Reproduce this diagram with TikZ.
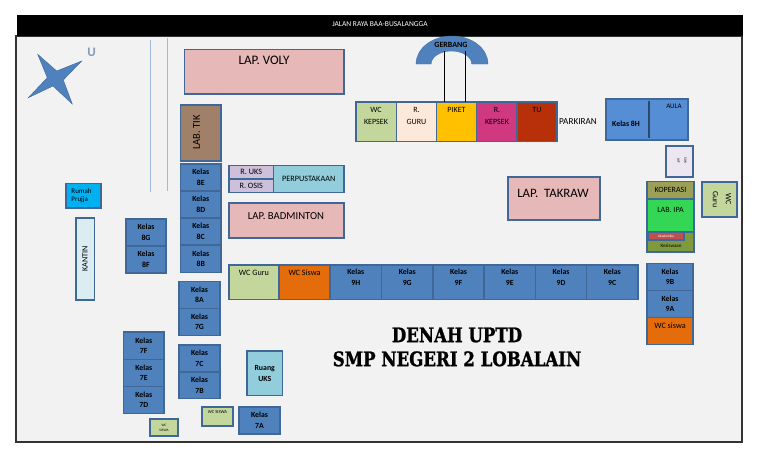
\documentclass[tikz,border=0pt]{standalone}
\usepackage{fontspec}
\setmainfont{Carlito}
\newfontfamily\titlefont{DejaVu Serif}[BoldFeatures={FakeBold=1.2,FakeStretch=0.83}]
\definecolor{ground}{HTML}{F2F2F2}
\definecolor{edge}{HTML}{3F6797}
\definecolor{kelas}{HTML}{4F81BD}
\definecolor{lapangan}{HTML}{E6B8B7}
\definecolor{wcgreen}{HTML}{C3D69B}
\definecolor{wcorange}{HTML}{E46C0A}
\definecolor{aqua}{HTML}{92CDDC}
\definecolor{lilac}{HTML}{CCC0DA}
\definecolor{tikbrown}{HTML}{A08068}
\definecolor{rguru}{HTML}{FDE9D9}
\definecolor{piket}{HTML}{FFC000}
\definecolor{kepsek}{HTML}{D0397F}
\definecolor{tata}{HTML}{B7300A}
\definecolor{aula}{HTML}{558ED5}
\definecolor{prujja}{HTML}{00B0F0}
\definecolor{koperasi}{HTML}{9BA057}
\definecolor{labipa}{HTML}{33D755}
\definecolor{kesiswaan}{HTML}{7F9A3D}
\definecolor{akademik}{HTML}{C0504D}
\tikzset{
room/.style={draw=edge, line width=1.1pt},
kelasroom/.style={room, fill=kelas},
lapangan/.style={room, line width=1.3pt, fill=lapangan},
wcroom/.style={room, fill=wcgreen},
label/.style={inner sep=0pt, align=center, font=\fontsize{8.2}{10.5}\selectfont},
kelaslabel/.style={label, font=\bfseries\fontsize{7.8}{10.5}\selectfont},
frontlabel/.style={label, font=\fontsize{8}{12}\selectfont},
road/.style={line width=1pt, draw=kelas!55},
gateline/.style={line width=.8pt, black}
}
\begin{document}
\begin{tikzpicture}[x=1pt,y=-1pt]
\useasboundingbox (0,0) rectangle (768,466);
% halaman dan jalan
\draw[fill=ground, draw=black!80, line width=1.5pt] (16,36) rectangle (742,442);
\fill[black] (17,15) rectangle (743,36);
\node[label, text=white, font=\fontsize{7.5}{8}\selectfont] (jalan) at (380,23.7){JALAN RAYA BAA-BUSALANGGA};
% arah mata angin
\draw[fill=kelas, draw=edge, line width=.4pt] (37.7,54.3) -- (56.7,71) -- (81.7,61) -- (63.3,80) -- (72.3,104) -- (53,86) -- (28.3,97.7) -- (47.3,77.7) -- cycle;
\node[label, text=kelas!55!gray!80, font=\bfseries\fontsize{13}{13}\selectfont] (utara) at (91.5,52.5){U};
\coordinate (road1a) at (150,40);
\coordinate (road1b) at (150,192);
\coordinate (road2a) at (167.5,38);
\coordinate (road2b) at (167.5,191);
\draw[road](road1a) -- (road1b);
\draw[road](road2a) -- (road2b);
% lapangan
\path[lapangan] (184.5,49.5) rectangle (344,94);
\node[label, font=\fontsize{13}{15}\selectfont] (voly) at (264,60){LAP. VOLY};
\path[lapangan] (229,203) rectangle (344,238);
\node[label, font=\fontsize{10.7}{12}\selectfont] (badminton) at (286,216){LAP. BADMINTON};
\path[lapangan, line width=1.6pt] (508,177) rectangle (600,220);
\node[label, font=\fontsize{12.8}{15}\selectfont] (takraw) at (553,193){LAP.\ \ TAKRAW};
% blok 8
\path[room, line width=1.3pt, fill=tikbrown] (180.5,105) rectangle (221,161);
\node[label, rotate=90, font=\fontsize{10.5}{12}\selectfont] (tik) at (196.5,132.5){LAB. TIK};
\foreach \nm/\top/\bot in {8E/164/191, 8D/191/218, 8C/218/245, 8B/245/272.5}
  \path[kelasroom] (180.5,\top) rectangle (221,\bot) node[midway, kelaslabel] (kelas\nm) {Kelas\\\nm};
\path[room, fill=lilac] (229,165.5) rectangle (273.5,179) node[midway, label] (uks) {R. UKS};
\path[room, fill=lilac] (229,179) rectangle (273.5,192.5) node[midway, label] (osis) {R. OSIS};
\path[room, fill=aqua] (273.5,165.5) rectangle (344,192.5) node[midway, label] (perpus) {PERPUSTAKAAN};
\path[room, fill=prujja] (66,183.5) rectangle (101,208);
\node[label, align=left, font=\fontsize{7}{8}\selectfont] (rumah) at (81.5,195.5){Rumah\\Prujja};
\path[room, fill=aqua!35] (76,218) rectangle (94.5,300);
\node[label, rotate=90] (kantin) at (85,259){KANTIN};
\foreach \nm/\top/\bot in {8G/219/246, 8F/246/273}
  \path[kelasroom] (126,\top) rectangle (166,\bot) node[midway, kelaslabel] (kelas\nm) {Kelas\\\nm};
\foreach \nm/\top/\bot in {8A/281.5/308.5, 7G/308.5/335.5, 7C/345/372, 7B/372/398.5}
  \path[kelasroom] (179,\top) rectangle (220,\bot) node[midway, kelaslabel] (kelas\nm) {Kelas\\\nm};
\foreach \nm/\top/\bot in {7F/332/359.5, 7E/359.5/386.5, 7D/386.5/413.5}
  \path[kelasroom] (123.5,\top) rectangle (164,\bot) node[midway, kelaslabel] (kelas\nm) {Kelas\\\nm};
\path[room, line width=1.4pt, fill=aqua] (247,351) rectangle (282.5,395.5) node[midway, kelaslabel] (ruanguks) {Ruang\\UKS};
\path[kelasroom] (239,407) rectangle (280,434) node[midway, kelaslabel] (kelas7A) {Kelas\\7A};
\path[wcroom] (202,407) rectangle (233,426);
\node[label, font=\fontsize{4.5}{5}\selectfont] (wcsiswa1) at (217.5,412.5){WC SISWA};
\path[wcroom] (150,419) rectangle (178,436);
\node[label, font=\fontsize{3.5}{5}\selectfont] (wcsiswa2) at (164,427.5){WC\\SISWA};
% blok 9
\path[wcroom] (229,265) rectangle (279,299.5);
\node[label] (wcguru) at (254,272.5){WC Guru};
\path[room, fill=wcorange] (279,265) rectangle (330,299.5);
\node[label] (wcsiswa) at (304.5,272.5){WC Siswa};
\foreach \nm/\lft/\rgt in {9H/330/381.5, 9G/381.5/433, 9F/433/484, 9E/484/535.5, 9D/535.5/586.5, 9C/586.5/638}{
  \path[kelasroom] (\lft,265) rectangle (\rgt,299.5);
  \node[kelaslabel] (kelas\nm) at ({(\lft+\rgt)/2},277.5){Kelas\\\nm};
}
\foreach \nm/\top/\bot in {9B/263.5/290.5, 9A/290.5/317.5}
  \path[kelasroom] (647,\top) rectangle (693,\bot) node[midway, kelaslabel] (kelas\nm) {Kelas\\\nm};
\path[room, fill=wcorange] (647,317.5) rectangle (693,344.5);
\node[label] (wcsiswa3) at (670,326){WC siswa};
% deret depan
\foreach \lft/\rgt/\clr in {356/396.5/wcgreen, 396.5/436.5/rguru, 436.5/476.5/piket, 476.5/517/kepsek, 517/557/tata}
  \path[room, fill=\clr] (\lft,102) rectangle (\rgt,141.5);
\node[frontlabel] (wckepsek) at (376,116){WC\\KEPSEK};
\node[frontlabel] (guru) at (416.5,116){R.\\GURU};
\node[frontlabel] (pikettxt) at (456.5,110){PIKET};
\node[frontlabel] (rkepsek) at (497,116){R.\\KEPSEK};
\node[frontlabel] (tu) at (537,110){TU};
\node[label, font=\fontsize{9.2}{11}\selectfont] (parkiran) at (578,122){PARKIRAN};
\path[room, fill=aula] (606,99) rectangle (688,140);
\draw[edge!70!black, line width=1.2pt] (649,101) -- (649,138);
\node[kelaslabel] (kelas8H) at (626,124){Kelas 8H};
\node[label, font=\fontsize{7}{8}\selectfont] (aulatxt) at (674,106.5){AULA};
\path[room, fill=lilac!40] (666,146) rectangle (693,177);
\node[label, rotate=-90, font=\fontsize{3.5}{7}\selectfont] (sakaif) at (682,160.5){SAK\\AIF};
\path[room, fill=wcgreen] (702,182) rectangle (737,217);
\node[label, rotate=-90, font=\fontsize{8}{13}\selectfont] (wcguru2) at (722,199.5){WC\\Guru};
\path[room, fill=kesiswaan] (647,232) rectangle (694,252);
\path[room, fill=koperasi] (647,181.5) rectangle (694,199);
\node[label, font=\fontsize{8}{9}\selectfont] (kop) at (670.5,190){KOPERASI};
\path[room, fill=labipa] (647,199) rectangle (694,232);
\node[label, font=\fontsize{8}{9}\selectfont] (ipa) at (670.5,209.5){LAB. IPA};
\path[room, fill=akademik] (648,232) rectangle (684,240);
\node[label, text=white, font=\fontsize{3.5}{4}\selectfont] (akademika) at (666,236){Akademika};
\node[label, font=\fontsize{5}{6}\selectfont] (kesiswaantxt) at (671,245.5){Kesiswaan};
% gerbang
\draw[fill=kelas, draw=kelas!90!black, line width=.4pt] (416,64) arc[start angle=180, end angle=360, x radius=36, y radius=28] -- (471.7,64) arc[start angle=360, end angle=180, x radius=20.3, y radius=13] -- cycle;
\coordinate (gate1) at (444.3,50.5);
\coordinate (gate2) at (465.7,50.5);
\coordinate (piket1) at (444.3,102);
\coordinate (piket2) at (465.7,102);
\draw[gateline](gate1) -- (piket1);
\draw[gateline](gate2) -- (piket2);
\node[kelaslabel, font=\bfseries\fontsize{8}{9}\selectfont] (gerbang) at (451,45){GERBANG};
% judul
\node[label, font=\titlefont\bfseries\fontsize{20}{24}\selectfont] (judul) at (457,347){DENAH UPTD\\SMP NEGERI 2 LOBALAIN};
\end{tikzpicture}
\end{document}
